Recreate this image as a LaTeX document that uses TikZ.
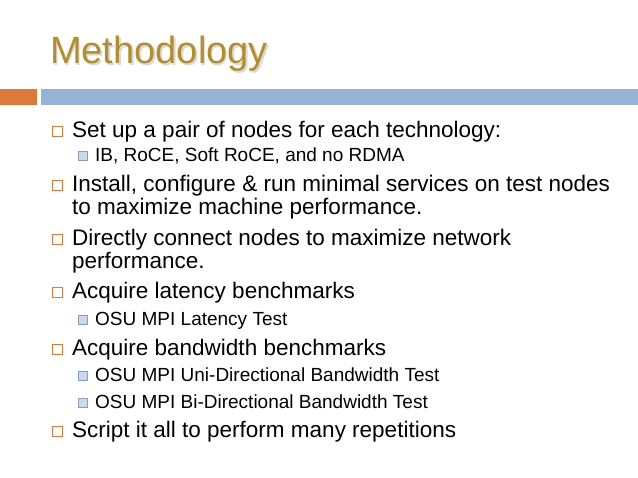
\documentclass[tikz,border=0pt]{standalone}
\usepackage{fontspec}
\setmainfont{Liberation Sans}
\definecolor{gold}{HTML}{B58E2C}
\definecolor{barorange}{HTML}{E0783A}
\definecolor{barblue}{HTML}{95B3D7}
\definecolor{boxblue}{HTML}{7F9FC8}
\tikzset{
 lone/.style={anchor=base west,inner sep=0pt,font=\fontsize{22.5}{26}\selectfont},
 ltwo/.style={anchor=base west,inner sep=0pt,font=\fontsize{19}{22}\selectfont},
 bone/.style={draw=barorange,line width=0.8pt,minimum size=10pt,inner sep=0pt},
 btwo/.style={draw=boxblue,fill=barblue!50,line width=1.6pt,minimum size=9pt,inner sep=0pt},
}
\begin{document}
\begin{tikzpicture}[x=1pt,y=-1pt]
\useasboundingbox (0,0) rectangle (638,478);
\fill[barorange] (0,89) rectangle (37,105);
\fill[barblue] (41,89) rectangle (638,105);
\node[anchor=base west,inner sep=0pt,text=black!15,font=\fontsize{38}{44}\selectfont] at (51.5,65.5) {Methodology};
\node (title)[anchor=base west,inner sep=0pt,text=gold,font=\fontsize{38}{44}\selectfont] at (50,64) {Methodology};
% level 1
\foreach \n/\y/\t in {a/130/{Set up a pair of nodes for each technology:},
  b/184/{Install, configure \& run minimal services on test nodes},
  c/238/{Directly connect nodes to maximize network},
  d/291/{Acquire latency benchmarks},
  e/348/{Acquire bandwidth benchmarks},
  f/430/{Script it all to perform many repetitions}}{
  \node[bone] (box\n) at (57,\y+1) {};
  \node[lone] (t\n) at (72,\y+8) {\t};
}
\node[lone] (tb2) at (72,215) {to maximize machine performance.};
\node[lone] (tc2) at (72,269) {performance.};
% level 2
\foreach \n/\y/\t in {a/155/{IB, RoCE, Soft RoCE, and no RDMA},
  d/319/{OSU MPI Latency Test},
  e/375/{OSU MPI Uni-Directional Bandwidth Test},
  g/402/{OSU MPI Bi-Directional Bandwidth Test}}{
  \node[btwo] (sbox\n) at (83,\y+1) {};
  \node[ltwo] (s\n) at (95,\y+7) {\t};
}
\end{tikzpicture}
\end{document}
